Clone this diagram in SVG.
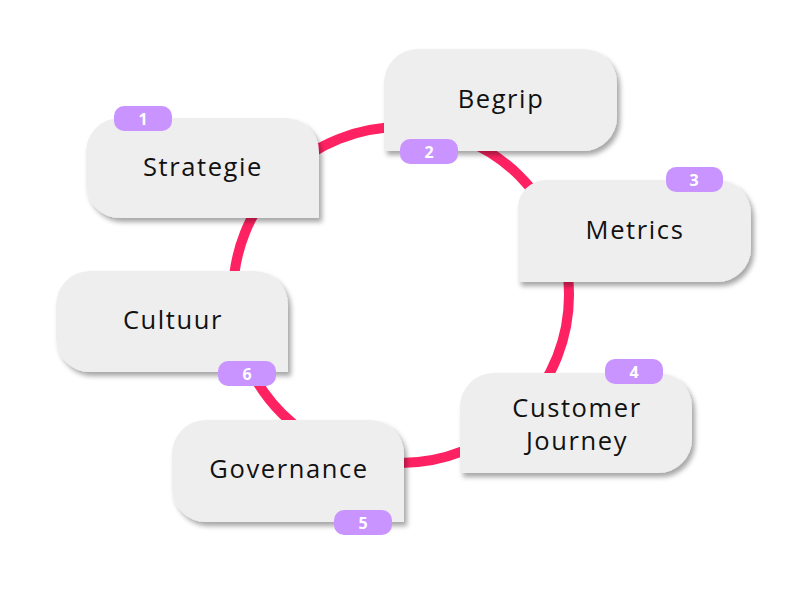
<svg xmlns="http://www.w3.org/2000/svg" width="800" height="600" viewBox="0 0 800 600">
<defs>
<filter id="sh" x="-10%" y="-10%" width="130%" height="140%">
<feDropShadow dx="3" dy="4" stdDeviation="2.5" flood-color="#000" flood-opacity="0.35"/>
</filter>
<style>
.box{fill:#EEEEEE;filter:url(#sh)}
.lbl{font-family:"Open Sans","Liberation Sans",sans-serif;font-weight:500;font-size:25.5px;letter-spacing:1.6px;fill:#111;text-anchor:middle}
.badge{fill:#C994FF}
.num{font-family:"Open Sans","Liberation Sans",sans-serif;font-weight:bold;font-size:16px;fill:#fff;text-anchor:middle}
.ring{fill:none;stroke:#FF2262;stroke-width:10}
</style>
</defs>
<rect width="800" height="600" fill="#fff"/>
<g id="connectors">
<circle class="ring" cx="401" cy="295" r="168"/>
</g>
<g id="n1">
<path class="box" d="M120 118 H285 A34 34 0 0 1 319 152 V218 H120 A34 34 0 0 1 86 184 V152 A34 34 0 0 1 120 118 Z"/>
<text class="lbl" x="203" y="176">Strategie</text>
<rect class="badge" x="114" y="106" width="58" height="25" rx="10"/>
<text class="num" x="143" y="125">1</text>
</g>
<g id="n2">
<path class="box" d="M418 49 H583 A34 34 0 0 1 617 83 V117 A34 34 0 0 1 583 151 H384 V83 A34 34 0 0 1 418 49 Z"/>
<text class="lbl" x="501" y="108">Begrip</text>
<rect class="badge" x="400" y="139" width="58" height="25" rx="10"/>
<text class="num" x="429" y="158">2</text>
</g>
<g id="n3">
<path class="box" d="M546 180 H717 A34 34 0 0 1 751 214 V248 A34 34 0 0 1 717 282 H518 V208 A28 28 0 0 1 546 180 Z"/>
<text class="lbl" x="635" y="239">Metrics</text>
<rect class="badge" x="666" y="167" width="57" height="25" rx="10"/>
<text class="num" x="694" y="186">3</text>
</g>
<g id="n4">
<path class="box" d="M494 373 H658 A34 34 0 0 1 692 407 V439 A34 34 0 0 1 658 473 H460 V407 A34 34 0 0 1 494 373 Z"/>
<text class="lbl" x="577" y="417">Customer</text>
<text class="lbl" x="577" y="450">Journey</text>
<rect class="badge" x="605" y="359" width="58" height="25" rx="10"/>
<text class="num" x="634" y="378">4</text>
</g>
<g id="n5">
<path class="box" d="M206 420 H370 A34 34 0 0 1 404 454 V522 H206 A34 34 0 0 1 172 488 V454 A34 34 0 0 1 206 420 Z"/>
<text class="lbl" x="289" y="478">Governance</text>
<rect class="badge" x="334" y="510" width="58" height="25" rx="10"/>
<text class="num" x="363" y="529">5</text>
</g>
<g id="n6">
<path class="box" d="M90 271 H254 A34 34 0 0 1 288 305 V372 H90 A34 34 0 0 1 56 338 V305 A34 34 0 0 1 90 271 Z"/>
<text class="lbl" x="173" y="329">Cultuur</text>
<rect class="badge" x="218" y="361" width="58" height="25" rx="10"/>
<text class="num" x="247" y="380">6</text>
</g>
</svg>
